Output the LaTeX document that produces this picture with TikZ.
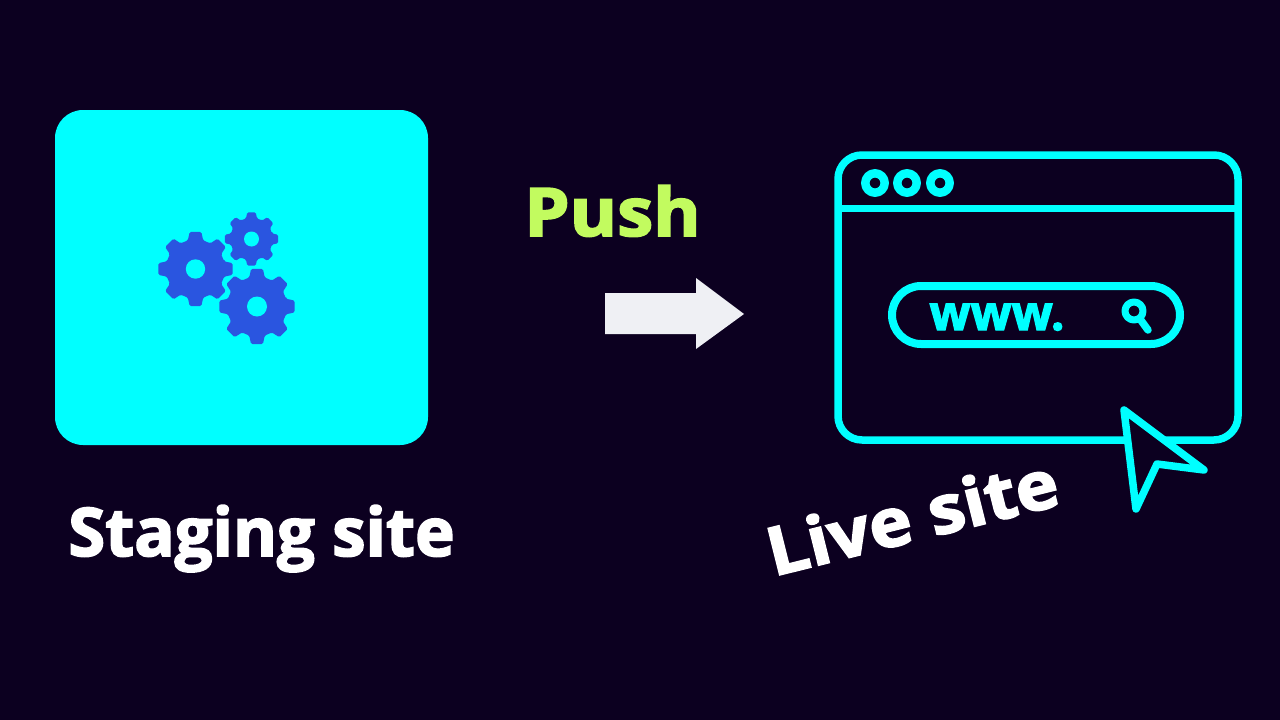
\documentclass[tikz,border=0pt]{standalone}
\usepackage{fontspec}
\setmainfont{Open Sans}[BoldFeatures={FakeBold=2.5}]
\definecolor{darkbg}{HTML}{0C0020}
\definecolor{neon}{HTML}{00FFFF}
\definecolor{gearblue}{HTML}{2A55E0}
\definecolor{pushgreen}{HTML}{C2FB5F}
\definecolor{arrowgrey}{HTML}{EFF0F4}
\begin{document}
\begin{tikzpicture}
  [x=1pt,y=-1pt,every node/.style={inner sep=0pt,font=\fontsize{67}{67}\selectfont\bfseries}]
  \tikzstyle{outline} = [draw=neon,line join=round,line cap=round]
  \tikzstyle{label} = [text=white]
  \tikzstyle{widelabel} = [xscale=1.08]
  \fill[darkbg] (0,0) rectangle (1280,720);
  \useasboundingbox (0,0) rectangle (1280,720);
  % staging side
  \fill[neon,rounded corners=28pt] (55,110) rectangle (428,445);
\foreach \cx /\cy /\rad /\hole in {195.5/269/37.5/9.7,251.5/239/27/7.5,257/306.5/38/10} {
  \begin{scope}[shift={(\cx,\cy)}]
   \fill[gearblue,rounded corners=1.4pt,preaction={draw=neon,line width=4pt}]
     (-15:.79*\rad) \foreach \a in {0,45,...,315} {
       -- ({\a-15}:.79*\rad) -- ({\a-9}:\rad) -- ({\a+9}:\rad) -- ({\a+15}:.79*\rad)
     } -- cycle;
   \fill[neon] (0,0) circle (\hole);
  \end{scope}
}
  \node[label,anchor=base] (staging) at (261.5,556) {Staging site};
  % push
  \node[widelabel,text=pushgreen,anchor=base] (push) at (612.5,236) {Push};
  \fill[arrowgrey] (605,293) -- (696,293) -- (696,278) -- (744,314) -- (696,349) -- (696,334) -- (605,334) -- cycle;
  % browser window
  \draw[outline,line width=7.5pt,rounded corners=24pt] (838,155) rectangle (1238,440);
  \draw[outline,line width=7.5pt,line cap=butt] (838,208.5) -- (1238,208.5);
\foreach \dx in {875,907,940}
   \draw[outline,line width=8.5pt] (\dx,183) circle (9.7);
  \draw[outline,line width=8pt,rounded corners=29pt] (892,286) rectangle (1180,344);
  \node[text=neon,font=\fontsize{48}{48}\selectfont\bfseries,anchor=base] (www) at (997,330) {www.};
  \draw[outline,line width=7pt] (1134,311) circle (9);
  \draw[outline,line width=7.5pt] (1140,319) -- (1148,330);
  % cursor
  \draw[outline,line width=7.5pt,fill=darkbg] (1124,410) -- (1204,470) -- (1157,464) -- (1136,509) -- cycle;
  \node[label,rotate=14,widelabel] (live) at (912,516) {Live site};
\end{tikzpicture}
\end{document}
